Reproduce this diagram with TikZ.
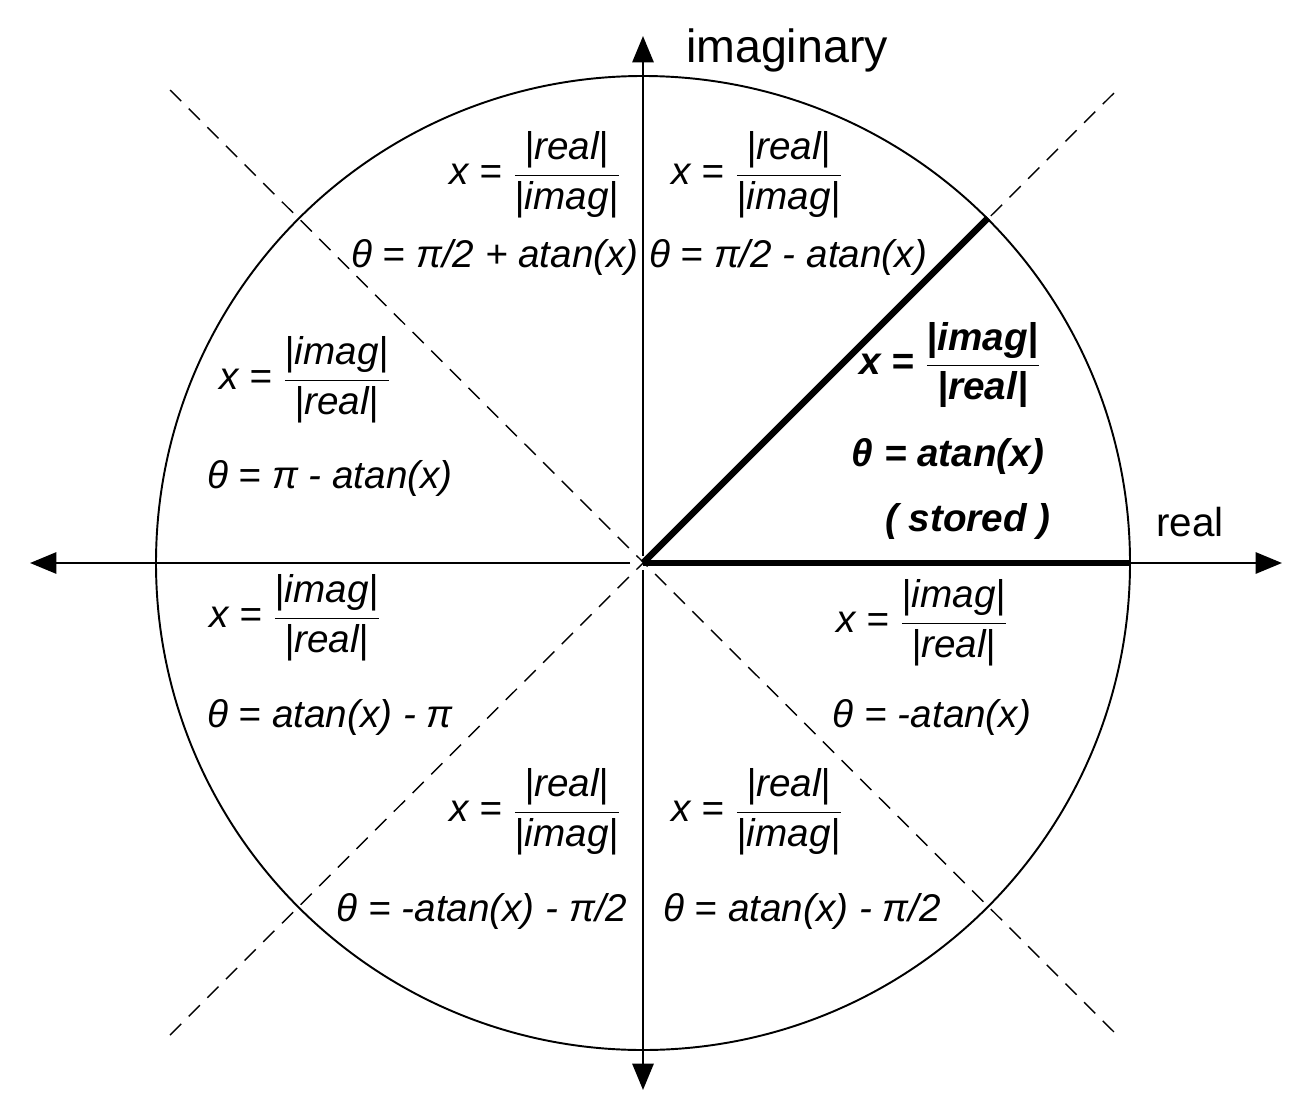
\documentclass[tikz,border=0pt]{standalone}
\usepackage{amsmath}
\usepackage{fontspec}
\setmainfont{Liberation Sans}
\usetikzlibrary{arrows.meta}
\newcommand{\myfr}[2]{$\dfrac{\text{\itshape #1}}{\text{\itshape #2}}$}
\newcommand{\myfrb}[2]{$\dfrac{\text{\bfseries\itshape #1}}{\text{\bfseries\itshape #2}}$}
\begin{document}
\begin{tikzpicture}[x=0.02cm,y=-0.02cm,
  lab/.style={font=\fontsize{22}{26}\selectfont\itshape, inner sep=0pt},
  blab/.style={font=\fontsize{22}{26}\selectfont\bfseries\itshape, inner sep=0pt},
  ax/.style={line width=1.5pt,-{Triangle[length=15pt,width=12pt]}},
  dsh/.style={dashed, dash pattern=on 9pt off 6pt, line width=0.8pt},
  thick line/.style={line width=3.8pt}]
\useasboundingbox (0,0) rectangle (1290,1098);
\coordinate (O) at (643,563);
\draw[line width=1.1pt] (O) circle (487);
\coordinate (dl1) at (170,90); \coordinate (dr1) at (1117,1035);
\coordinate (dl2) at (170,1035); \coordinate (dr2) at (1117,90);
\draw[dsh] (dl1) -- (dr1);
\draw[dsh] (dl2) -- (dr2);
\coordinate (xc) at (656,563);
\draw[ax] (xc) -- (1282,563);
\draw[ax] (630,563) -- (30,563);
\draw[ax] (643,570) -- (643,1090);
\draw[ax] (643,556) -- (643,36);
\coordinate (p1) at (988,218); \coordinate (p2) at (1130,563);
\draw[thick line] (O) -- (p1);
\draw[thick line] (O) -- (p2);
\node[font=\fontsize{26.5}{30}\selectfont] (im) at (787,50) {imaginary};
\node[font=\fontsize{23}{26}\selectfont] (re) at (1190,522) {real};
% top left
\node[lab] (a1) at (535,175) {x = \myfr{|real|}{|imag|}};
\node[lab] (a2) at (495,257) {θ = π/2 + atan(x)};
% top right
\node[lab] (b1) at (757,175) {x = \myfr{|real|}{|imag|}};
\node[lab] (b2) at (788,257) {θ = π/2 - atan(x)};
% left upper
\node[lab] (c1) at (305,380) {x = \myfr{|imag|}{|real|}};
\node[lab] (c2) at (330,478) {θ = π - atan(x)};
% right bold
\node[blab] (d1) at (950,365) {x = \myfrb{|imag|}{|real|}};
\node[blab] (d2) at (948,457) {θ = atan(x)};
\node[blab] (d3) at (968,522) {( stored )};
% left lower
\node[lab] (e1) at (295,618) {x = \myfr{|imag|}{|real|}};
\node[lab] (e2) at (330,717) {θ = atan(x) - π};
% right lower
\node[lab] (f1) at (922,623) {x = \myfr{|imag|}{|real|}};
\node[lab] (f2) at (932,717) {θ = -atan(x)};
% bottom left
\node[lab] (g1) at (535,812) {x = \myfr{|real|}{|imag|}};
\node[lab] (g2) at (482,911) {θ = -atan(x) - π/2};
% bottom right
\node[lab] (h1) at (757,812) {x = \myfr{|real|}{|imag|}};
\node[lab] (h2) at (802,911) {θ = atan(x) - π/2};
\end{tikzpicture}
\end{document}
